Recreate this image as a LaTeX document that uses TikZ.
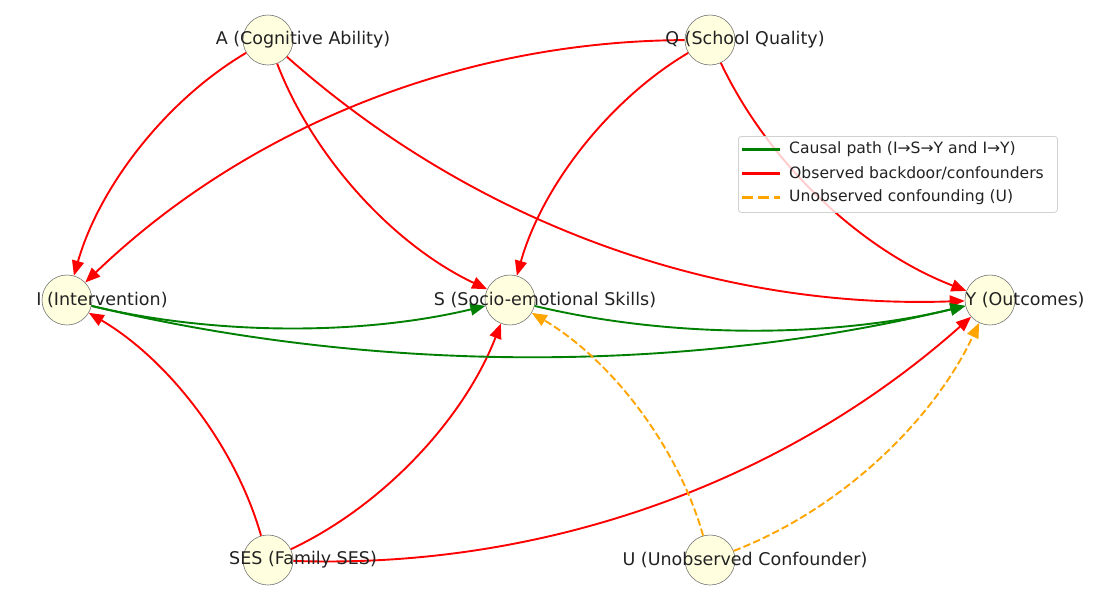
\documentclass[tikz,border=0pt]{standalone}
\usepackage{fontspec}
\setmainfont{DejaVu Sans}
\usetikzlibrary{calc,arrows.meta}
\definecolor{nodefill}{HTML}{FFFFE0}
\definecolor{cgreen}{HTML}{008000}
\definecolor{cred}{HTML}{FF0000}
\definecolor{corange}{HTML}{FFA500}
\definecolor{ctext}{HTML}{222222}
\newcommand\qcurve[4]{%
  \coordinate (qq) at ($(#2.center)!0.5!(#3.center)!#4!-90:(#3.center)$);
  \draw[#1] (#2) .. controls ($(#2.center)!0.6667!(qq)$) and ($(#3.center)!0.6667!(qq)$) .. (#3);}
\tikzset{
  vnode/.style={circle, draw=black!55, line width=0.6pt, fill=nodefill, minimum size=50pt, inner sep=0pt},
  vlabel/.style={font=\fontsize{17.5}{20}\selectfont, text=ctext, inner sep=0pt},
  tipstyle/.style={-{Triangle[length=15pt,width=12pt]}},
  redge/.style={tipstyle, cred, line width=1.9pt},
  gedge/.style={tipstyle, cgreen, line width=1.9pt},
  oedge/.style={tipstyle, corange, line width=1.9pt, dash pattern=on 7.4pt off 3.2pt},
  legtext/.style={anchor=west, font=\fontsize{15.6}{18}\selectfont, text=ctext, inner sep=0pt}
}
\begin{document}
\begin{tikzpicture}[x=1pt,y=-1pt]
\useasboundingbox (0,0) rectangle (1100,600);
\fill[white] (0,0) rectangle (1100,600);
% nodes
\node[vnode] (A) at (268,40) {};
\node[vnode] (Q) at (710,40) {};
\node[vnode] (I) at (67,300) {};
\node[vnode] (S) at (510,300) {};
\node[vnode] (Y) at (990,300) {};
\node[vnode] (SES) at (268,560) {};
\node[vnode] (U) at (710,560) {};
% edges
\qcurve{redge}{A}{I}{0.4}
\qcurve{redge}{A}{S}{0.4}
\qcurve{redge}{A}{Y}{0.4}
\qcurve{redge}{Q}{I}{0.4}
\qcurve{redge}{Q}{S}{0.4}
\qcurve{redge}{Q}{Y}{0.4}
\qcurve{redge}{SES}{I}{0.4}
\qcurve{redge}{SES}{S}{0.4}
\qcurve{redge}{SES}{Y}{0.4}
\qcurve{gedge}{I}{S}{0.24}
\qcurve{gedge}{I}{Y}{0.24}
\qcurve{gedge}{S}{Y}{0.24}
\qcurve{oedge}{U}{S}{0.4}
\qcurve{oedge}{U}{Y}{0.4}
% labels
\node[vlabel] (lA) at ($(A.center)+(35,0)$) {A (Cognitive Ability)};
\node[vlabel] (lQ) at ($(Q.center)+(35,0)$) {Q (School Quality)};
\node[vlabel] (lI) at ($(I.center)+(35,0)$) {I (Intervention)};
\node[vlabel] (lS) at ($(S.center)+(35,0)$) {S (Socio-emotional Skills)};
\node[vlabel] (lY) at ($(Y.center)+(35,0)$) {Y (Outcomes)};
\node[vlabel] (lSES) at ($(SES.center)+(35,0)$) {SES (Family SES)};
\node[vlabel] (lU) at ($(U.center)+(35,0)$) {U (Unobserved Confounder)};
% legend
\node[draw=black!18, fill=white, fill opacity=0.8, draw opacity=1, rounded corners=3pt, line width=0.8pt, minimum width=319pt, minimum height=76pt, anchor=north west, inner sep=0pt] (leg) at (738,136) {};
\draw[cgreen, line width=3pt] ($(leg.north west)+(4,13)$) -- ++(38,0);
\draw[cred, line width=3pt] ($(leg.north west)+(4,37)$) -- ++(38,0);
\draw[corange, line width=3pt, dash pattern=on 11pt off 5pt] ($(leg.north west)+(4,61)$) -- ++(38,0);
\node[legtext] (t1) at ($(leg.north west)+(51,13)$) {Causal path (I→S→Y and I→Y)};
\node[legtext] (t2) at ($(leg.north west)+(51,37)$) {Observed backdoor/confounders};
\node[legtext] (t3) at ($(leg.north west)+(51,61)$) {Unobserved confounding (U)};
\end{tikzpicture}
\end{document}
